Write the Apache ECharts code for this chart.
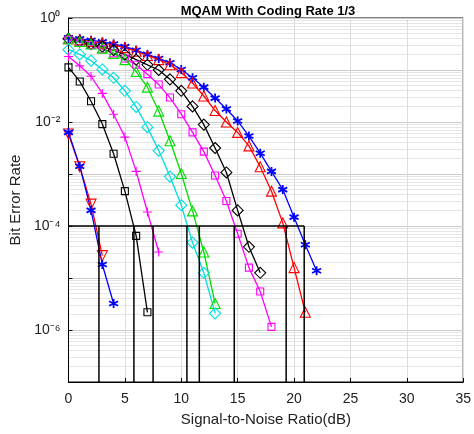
<!DOCTYPE html>
<html><head><meta charset="utf-8">
<script src="https://cdn.jsdelivr.net/npm/echarts@6/dist/echarts.min.js"></script>
<style>html,body{margin:0;background:#fff}#main{width:474px;height:434px}</style>
</head><body><div id="main"></div>
<script>
// BER values given as log10 exponents, x = SNR in dB
var blueStarX = [0,1,2,3,4,5,6,7,8,9,10,11,12,13,14,15,16,17,18,19,20,21,22];
var blueStarE = [-0.38,-0.4,-0.43,-0.46,-0.5,-0.55,-0.62,-0.7,-0.78,-0.86,-0.99,-1.15,-1.33,-1.54,-1.75,-1.98,-2.27,-2.6,-2.95,-3.3,-3.83,-4.36,-4.86];
var redTriX = [0,1,2,3,4,5,6,7,8,9,10,11,12,13,14,15,16,17,18,19,20,21];
var redTriE = [-0.4,-0.42,-0.45,-0.48,-0.52,-0.57,-0.64,-0.72,-0.8,-0.9,-1.05,-1.25,-1.5,-1.78,-2.0,-2.2,-2.46,-2.86,-3.33,-3.94,-4.8,-5.66];
var blkDiaX = [0,1,2,3,4,5,6,7,8,9,10,11,12,13,14,15,16,17];
var blkDiaE = [-0.4,-0.45,-0.5,-0.55,-0.62,-0.7,-0.8,-0.9,-1.0,-1.18,-1.4,-1.7,-2.05,-2.5,-2.97,-3.7,-4.4,-4.9];
var magSqX = [0,1,2,3,4,5,6,7,8,9,10,11,12,13,14,15,16,17,18];
var magSqE = [-0.42,-0.47,-0.52,-0.6,-0.68,-0.78,-0.9,-1.08,-1.28,-1.53,-1.85,-2.2,-2.57,-3.03,-3.52,-4.15,-4.8,-5.26,-5.94];
var grnTriX = [0,1,2,3,4,5,6,7,8,9,10,11,12,13];
var grnTriE = [-0.4,-0.45,-0.5,-0.58,-0.68,-0.8,-1.03,-1.33,-1.79,-2.36,-2.99,-3.71,-4.5,-5.49];
var cyaDiaX = [0,1,2,3,4,5,6,7,8,9,10,11,12,13];
var cyaDiaE = [-0.61,-0.7,-0.82,-0.99,-1.15,-1.4,-1.71,-2.1,-2.55,-3.05,-3.6,-4.32,-4.9,-5.68];
var magPlusX = [0,1,2,3,4,5,6,7,8];
var magPlusE = [-0.74,-0.92,-1.12,-1.45,-1.85,-2.29,-2.95,-3.73,-4.5];
var blkSqX = [0,1,2,3,4,5,6,7];
var blkSqE = [-0.95,-1.22,-1.6,-2.04,-2.61,-3.33,-4.19,-5.66];
var redInvX = [0,1,2,3];
var redInvE = [-2.23,-2.86,-3.58,-4.57];
var blueStar2X = [0,1,2,3,4];
var blueStar2E = [-2.2,-2.85,-3.7,-4.74,-5.49];
var crossX = [2.7,5.8,7.5,10.5,11.6,14.7,19.3,20.9];
var xTicks = [0,5,10,15,20,25,30,35];

var STAR = 'path://M0,-10L0,10M-8.66,-5L8.66,5M-8.66,5L8.66,-5';
var PLUS = 'path://M0,-10L0,10M-10,0L10,0';
var INV = 'path://M-10,-8L10,-8L0,9Z';

function pts(xs, es) { return xs.map(function (x, i) { return [x, Math.pow(10, es[i])]; }); }
function curve(xs, es, color, symbol, size) {
  return {
    type: 'line', data: pts(xs, es), symbol: symbol, symbolSize: size || 8,
    lineStyle: { color: color, width: 1.3 },
    itemStyle: { color: 'transparent', borderColor: color, borderWidth: symbol === STAR ? 1.8 : 1.1 },
    z: 3
  };
}
var series = [
  curve(blueStarX, blueStarE, '#0000ff', STAR, 9),
  curve(redTriX, redTriE, '#ff0000', 'triangle', 10),
  curve(blkDiaX, blkDiaE, '#000000', 'diamond', 11),
  curve(magSqX, magSqE, '#ff00ff', 'rect', 7),
  curve(grnTriX, grnTriE, '#00dd00', 'triangle', 10),
  curve(cyaDiaX, cyaDiaE, '#00dddd', 'diamond', 11),
  curve(magPlusX, magPlusE, '#ff00ff', PLUS, 9),
  curve(blkSqX, blkSqE, '#000000', 'rect', 7),
  curve(redInvX, redInvE, '#ff0000', INV, 10),
  curve(blueStar2X, blueStar2E, '#0000ff', STAR, 9)
];
series.push({ type: 'line', data: [[0, 1e-4], [crossX[crossX.length - 1], 1e-4]], symbol: 'none',
  lineStyle: { color: '#000', width: 1.5 }, z: 4 });
crossX.forEach(function (x) {
  series.push({ type: 'line', data: [[x, 1e-4], [x, 1e-7]], symbol: 'none',
    lineStyle: { color: '#000', width: 1.5 }, z: 4 });
});

var sup = { '-': '⁻', '0': '⁰', '1': '¹', '2': '²', '4': '⁴', '6': '⁶' };
var chart = echarts.init(document.getElementById('main'));
chart.setOption({
  animation: false,
  title: { text: 'MQAM With Coding Rate 1/3', left: 263, top: 0, textAlign: 'center',
    textStyle: { fontFamily: 'Liberation Sans', fontSize: 13, fontWeight: 'bold', color: '#000' } },
  grid: { left: 62, right: 10, top: 18, bottom: 52, show: true, borderColor: '#000', borderWidth: 1 },
  xAxis: {
    type: 'value', min: 0, max: 35, interval: 5,
    name: 'Signal-to-Noise Ratio(dB)', nameLocation: 'middle', nameGap: 30,
    nameTextStyle: { fontFamily: 'Liberation Sans', fontSize: 15, color: '#222' },
    axisLine: { lineStyle: { color: '#000' } }, axisTick: { inside: true, length: 4, lineStyle: { color: '#000' } },
    axisLabel: { fontFamily: 'Liberation Sans', fontSize: 14, color: '#222', margin: 10,
      formatter: function (v) { return xTicks.indexOf(v) >= 0 ? String(v) : ''; } },
    splitLine: { lineStyle: { color: '#ddd' } }
  },
  yAxis: {
    type: 'log', logBase: 10, min: 1e-7, max: 1, interval: 1,
    name: 'Bit Error Rate', nameLocation: 'middle', nameGap: 40,
    nameTextStyle: { fontFamily: 'Liberation Sans', fontSize: 15, color: '#222' },
    axisLine: { lineStyle: { color: '#000' } }, axisTick: { inside: true, length: 4, lineStyle: { color: '#000' } },
    axisLabel: { fontFamily: 'Liberation Sans', fontSize: 14, color: '#222',
      formatter: function (v) {
        var e = Math.round(Math.log10(v));
        if (e % 2 !== 0) return '';
        return '10' + String(e).split('').map(function (c) { return sup[c]; }).join('');
      } },
    splitLine: { lineStyle: { color: '#ccc' } },
    minorTick: { show: false, splitNumber: 9 },
    minorSplitLine: { show: true, lineStyle: { color: '#ccc', type: 'dotted' } }
  },
  series: series
});
</script></body></html>
